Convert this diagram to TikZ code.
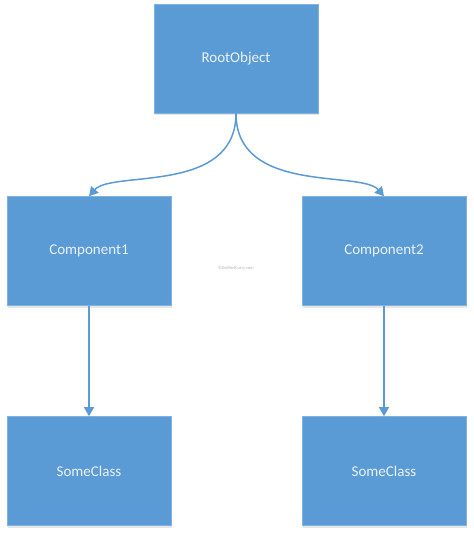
\documentclass[tikz,border=0pt]{standalone}
\usepackage{fontspec}
\setmainfont{Carlito}
\usetikzlibrary{arrows.meta,shadows}
\definecolor{boxblue}{HTML}{5B9BD5}
\definecolor{boxedge}{HTML}{7FB2E0}
\definecolor{boxtext}{HTML}{EAF2FB}
\begin{document}
\begin{tikzpicture}[x=1pt,y=-1pt,
    classbox/.style = {draw = boxedge, line width = 0.6pt, fill = boxblue,
        minimum width = 164pt, minimum height = 109pt, text = boxtext,
        font = \fontsize{15}{17}\selectfont,
        drop shadow = {shadow xshift = 1pt, shadow yshift = -2pt, opacity = 0.2, fill = black!50}},
    link/.style = {draw = boxblue, line width = 1.5pt, -{Triangle[width = 10pt, length = 9pt]}}]
    \useasboundingbox (0,0) rectangle (474,536);
    \node[classbox] (root) at (236,58.5) {RootObject};
    \node[classbox] (comp1) at (89,251) {Component1};
    \node[classbox] (comp2) at (384,251) {Component2};
    \node[classbox] (some1) at (89,471) {SomeClass};
    \node[classbox] (some2) at (384,471) {SomeClass};
    \node[text = black!30, font = \fontsize{4.5}{5}\selectfont] (mark) at (236,268) {©DotNetCurry.com};
    % curved links from the root
    \draw[link] (root.south) .. controls (236,195) and (112,170) .. (comp1.north);
    \draw[link] (root.south) .. controls (236,195) and (361,170) .. (comp2.north);
    % straight links
    \draw[link] (comp1) -- (some1);
    \draw[link] (comp2) -- (some2);
\end{tikzpicture}
\end{document}
